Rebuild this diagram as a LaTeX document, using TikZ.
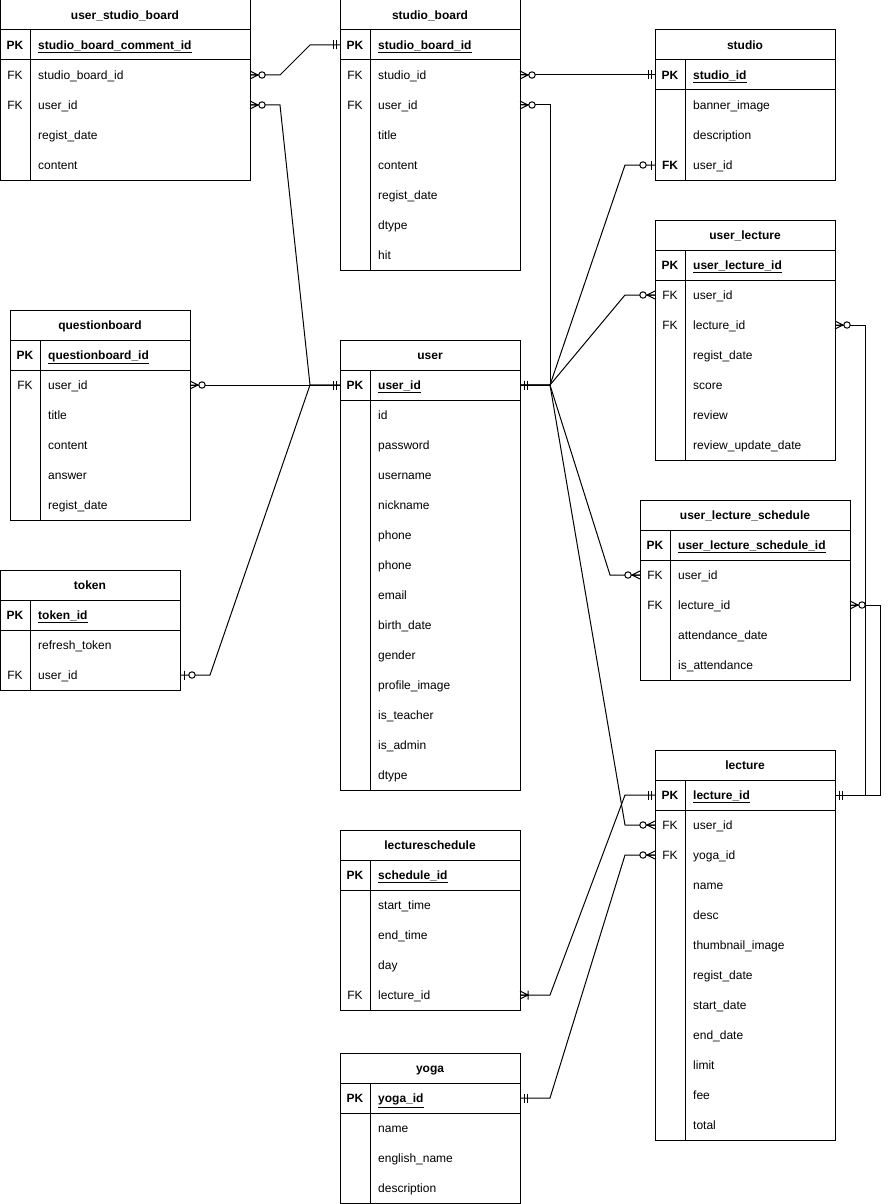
\documentclass[tikz,border=0pt]{standalone}
\usepackage{fontspec}
\setmainfont{Liberation Sans}
\usetikzlibrary{calc}
\newcommand\fs{\fontsize{12}{14}\selectfont}
\tikzset{
  tbl/.style={draw=black, line width=1pt},
  conn/.style={draw=black, line width=1pt},
  txt/.style={inner sep=0pt, text height=9pt, text depth=3pt, yshift=-1.8pt},
  hdr/.style={txt, font={\fs\bfseries}},
  keyt/.style={txt, font=\fs},
  keytb/.style={txt, font={\fs\bfseries}},
  fld/.style={txt, anchor=west, font=\fs},
  fldb/.style={txt, anchor=west, font={\fs\bfseries}},
  mone/.pic={\draw[conn] (4,-4.5)--(4,4.5) (7,-4.5)--(7,4.5);},
  zmany/.pic={\draw[conn] (0,-4)--(8,0)--(0,4) (0,0)--(8,0);
              \draw[conn,fill=white] (12,0) circle[radius=3.2pt];},
  zone/.pic={\draw[conn] (4,-4.5)--(4,4.5);
             \draw[conn,fill=white] (12,0) circle[radius=3.2pt];},
  onemany/.pic={\draw[conn] (0,-4)--(8,0)--(0,4) (0,0)--(8,0) (8,-4.5)--(8,4.5);},
}
\newcommand\ertable[8]{%
  \pgfmathsetmacro\tbot{#3+60+30*#7}%
  \draw[tbl] (#2,#3) rectangle (#2+#4,\tbot);
  \draw[tbl] (#2,#3+30) -- (#2+#4,#3+30);
  \draw[tbl] (#2,#3+60) -- (#2+#4,#3+60);
  \draw[tbl] (#2+30,#3+30) -- (#2+30,\tbot);
  \node[hdr] (#1) at (#2+#4/2,#3+15) {#5};
  \node[keytb] (#1-pkk) at (#2+15,#3+45) {PK};
  \node[fldb] (#1-pkf) at (#2+38,#3+45) {\underline{#6}};
  \coordinate (#1-pk-w) at (#2,#3+45);
  \coordinate (#1-pk-e) at (#2+#4,#3+45);
  \foreach \k/\f [count=\i] in {#8} {
    \node[keyt] (#1-k\i) at (#2+15,#3+45+30*\i) {\k};
    \node[fld] (#1-f\i) at (#2+38,#3+45+30*\i) {\f};
    \coordinate (#1-r\i-w) at (#2,#3+45+30*\i);
    \coordinate (#1-r\i-e) at (#2+#4,#3+45+30*\i);
  }%
}
\begin{document}
\begin{tikzpicture}[x=1pt,y=-1pt]
\fill[white] (0,0) rectangle (890,1204);
\useasboundingbox (0,0) rectangle (890,1204);

\ertable{usb}{0}{0}{250}{user\_studio\_board}{studio\_board\_comment\_id}{4}{FK/studio\_board\_id, FK/user\_id, /regist\_date, /content}
\ertable{sb}{340}{0}{180}{studio\_board}{studio\_board\_id}{7}{FK/studio\_id, FK/user\_id, /title, /content, /regist\_date, /dtype, /hit}
\ertable{st}{655}{30}{180}{studio}{studio\_id}{3}{/banner\_image, /description, \textbf{FK}/user\_id}
\ertable{ul}{655}{220}{180}{user\_lecture}{user\_lecture\_id}{6}{FK/user\_id, FK/lecture\_id, /regist\_date, /score, /review, /review\_update\_date}
\ertable{qb}{10}{310}{180}{questionboard}{questionboard\_id}{5}{FK/user\_id, /title, /content, /answer, /regist\_date}
\ertable{user}{340}{340}{180}{user}{user\_id}{13}{/id, /password, /username, /nickname, /phone, /phone, /email, /birth\_date, /gender, /profile\_image, /is\_teacher, /is\_admin, /dtype}
\ertable{uls}{640}{500}{210}{user\_lecture\_schedule}{user\_lecture\_schedule\_id}{4}{FK/user\_id, FK/lecture\_id, /attendance\_date, /is\_attendance}
\ertable{tok}{0}{570}{180}{token}{token\_id}{2}{/refresh\_token, FK/user\_id}
\ertable{lec}{655}{750}{180}{lecture}{lecture\_id}{11}{FK/user\_id, FK/yoga\_id, /name, /desc, /thumbnail\_image, /regist\_date, /start\_date, /end\_date, /limit, /fee, /total}
\ertable{ls}{340}{830}{180}{lectureschedule}{schedule\_id}{4}{/start\_time, /end\_time, /day, FK/lecture\_id}
\ertable{yoga}{340}{1053}{180}{yoga}{yoga\_id}{3}{/name, /english\_name, /description}

% connectors
\draw[conn] (usb-r1-e) -- ++(30,0) -- ($(sb-pk-w)+(-30,0)$) -- (sb-pk-w);
\draw[conn] (usb-r2-e) -- ++(30,0) -- ($(user-pk-w)+(-30,0)$) -- (user-pk-w);
\draw[conn] (qb-r1-e) -- (user-pk-w);
\draw[conn] (tok-r2-e) -- ++(30,0) -- ($(user-pk-w)+(-30,0)$) -- (user-pk-w);
\draw[conn] (sb-r1-e) -- (st-pk-w);
\draw[conn] (sb-r2-e) -- ++(30,0) -- ($(user-pk-e)+(30,0)$) -- (user-pk-e);
\draw[conn] (user-pk-e) -- ++(30,0) -- ($(st-r3-w)+(-30,0)$) -- (st-r3-w);
\draw[conn] (user-pk-e) -- ++(30,0) -- ($(ul-r1-w)+(-30,0)$) -- (ul-r1-w);
\draw[conn] (user-pk-e) -- ++(30,0) -- ($(uls-r1-w)+(-30,0)$) -- (uls-r1-w);
\draw[conn] (user-pk-e) -- ++(30,0) -- ($(lec-r1-w)+(-30,0)$) -- (lec-r1-w);
\draw[conn] (lec-pk-e) -- ++(30,0) -- ($(ul-r2-e)+(30,0)$) -- (ul-r2-e);
\draw[conn] (lec-pk-e) -- ++(45,0) -- ($(uls-r2-e)+(30,0)$) -- (uls-r2-e);
\draw[conn] (lec-pk-w) -- ++(-30,0) -- ($(ls-r4-e)+(30,0)$) -- (ls-r4-e);
\draw[conn] (yoga-pk-e) -- ++(30,0) -- ($(lec-r2-w)+(-30,0)$) -- (lec-r2-w);

% end markers
\pic at (usb-r1-e) {zmany};
\pic at (usb-r2-e) {zmany};
\pic[rotate=180] at (sb-pk-w) {mone};
\pic[rotate=180] at (user-pk-w) {mone};
\pic at (qb-r1-e) {zmany};
\pic at (tok-r2-e) {zone};
\pic at (sb-r1-e) {zmany};
\pic at (sb-r2-e) {zmany};
\pic[rotate=180] at (st-pk-w) {mone};
\pic at (user-pk-e) {mone};
\pic[rotate=180] at (st-r3-w) {zone};
\pic[rotate=180] at (ul-r1-w) {zmany};
\pic[rotate=180] at (uls-r1-w) {zmany};
\pic[rotate=180] at (lec-r1-w) {zmany};
\pic at (ul-r2-e) {zmany};
\pic at (uls-r2-e) {zmany};
\pic at (lec-pk-e) {mone};
\pic[rotate=180] at (lec-pk-w) {mone};
\pic at (ls-r4-e) {onemany};
\pic at (yoga-pk-e) {mone};
\pic[rotate=180] at (lec-r2-w) {zmany};
\end{tikzpicture}
\end{document}
